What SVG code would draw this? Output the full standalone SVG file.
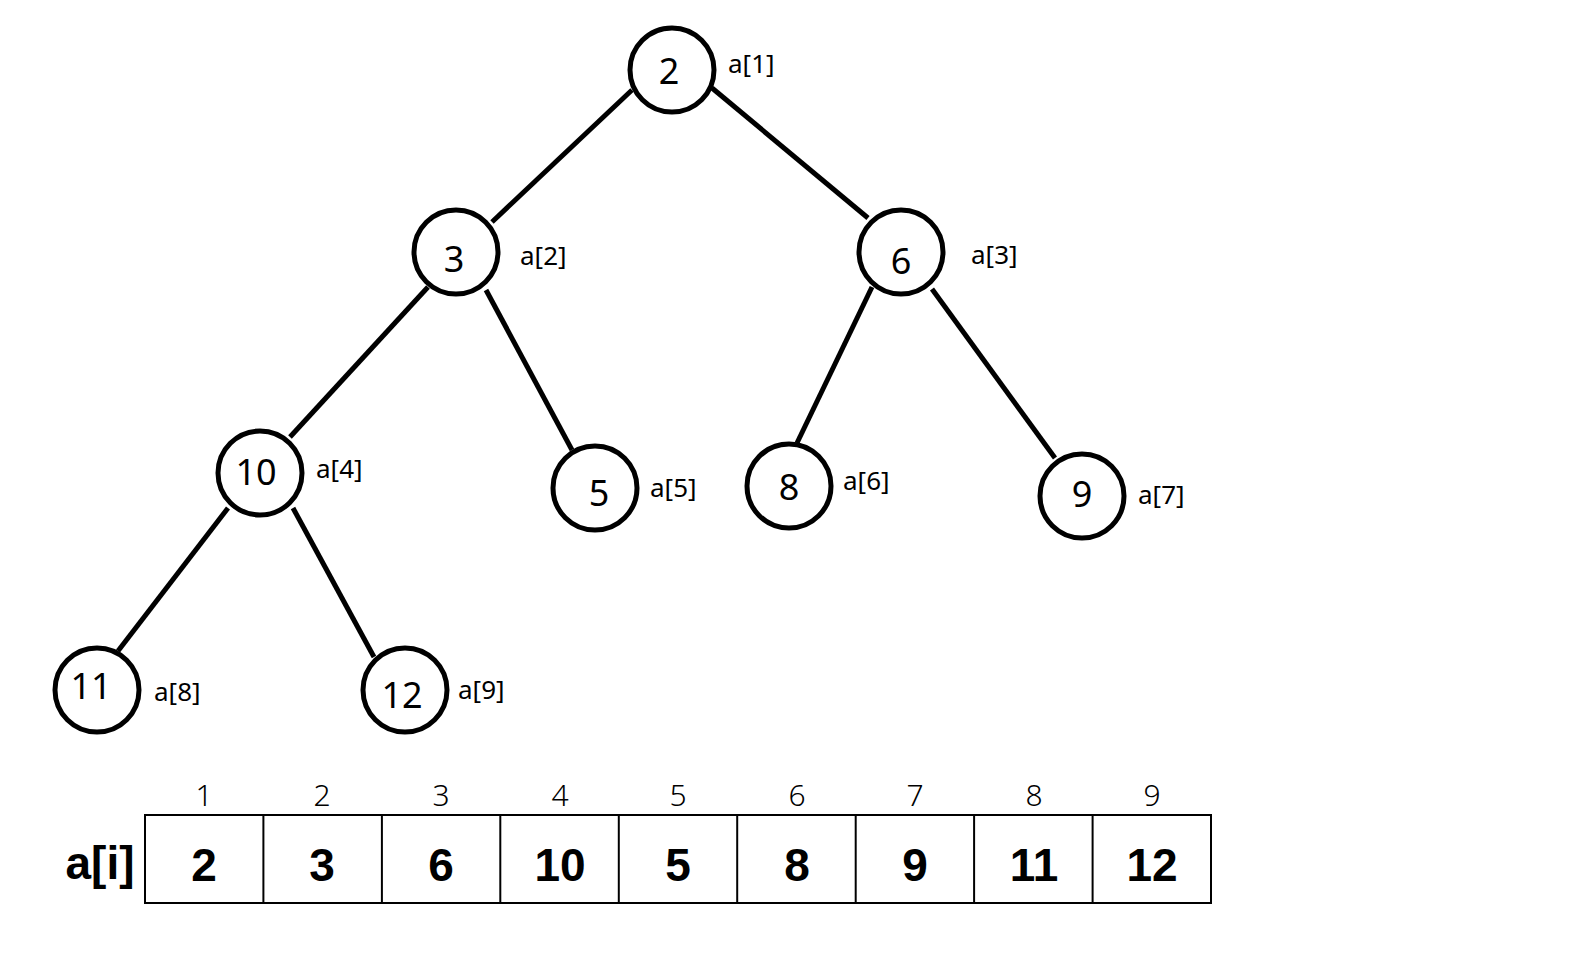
<svg xmlns="http://www.w3.org/2000/svg" width="1587" height="963" viewBox="0 0 1587 963">
<style>
.n circle{fill:#fff;stroke:#000;stroke-width:5}
.n text.v{font-family:"Noto Sans",sans-serif;font-size:36px;text-anchor:middle}
.lb{font-family:"Noto Sans",sans-serif;font-size:26px}
#edges line{stroke:#000;stroke-width:5}
.cell{fill:#fff;stroke:#000;stroke-width:2}
.idx{font-family:"Noto Sans",sans-serif;font-size:30px;text-anchor:middle;font-weight:300}
.val{font-family:"Liberation Sans",Arial,sans-serif;font-size:46px;font-weight:bold;text-anchor:middle}
</style>
<rect width="1587" height="963" fill="#fff"/>
<g id="edges">
<line x1="632" y1="90" x2="492" y2="222"/>
<line x1="712" y1="88" x2="868" y2="218"/>
<line x1="428" y1="287" x2="290" y2="437"/>
<line x1="486" y1="290" x2="572" y2="450"/>
<line x1="872" y1="287" x2="797" y2="443"/>
<line x1="932" y1="289" x2="1055" y2="458"/>
<line x1="228" y1="508" x2="118" y2="651"/>
<line x1="293" y1="508" x2="374" y2="657"/>
</g>
<g id="n1" class="n"><circle cx="672" cy="70" r="42"/><text class="v" x="669" y="84">2</text><text class="lb" x="728" y="73">a[1]</text></g>
<g id="n2" class="n"><circle cx="456" cy="252" r="42"/><text class="v" x="454" y="272">3</text><text class="lb" x="520" y="265">a[2]</text></g>
<g id="n3" class="n"><circle cx="901" cy="252" r="42"/><text class="v" x="901" y="274">6</text><text class="lb" x="971" y="264">a[3]</text></g>
<g id="n4" class="n"><circle cx="260" cy="473" r="42"/><text class="v" x="256" y="485">10</text><text class="lb" x="316" y="478">a[4]</text></g>
<g id="n5" class="n"><circle cx="595" cy="488" r="42"/><text class="v" x="599" y="506">5</text><text class="lb" x="650" y="497">a[5]</text></g>
<g id="n6" class="n"><circle cx="789" cy="486" r="42"/><text class="v" x="789" y="500">8</text><text class="lb" x="843" y="490">a[6]</text></g>
<g id="n7" class="n"><circle cx="1082" cy="496" r="42"/><text class="v" x="1082" y="507">9</text><text class="lb" x="1138" y="504">a[7]</text></g>
<g id="n8" class="n"><circle cx="97" cy="690" r="42"/><text class="v" x="91" y="699">11</text><text class="lb" x="154" y="701">a[8]</text></g>
<g id="n9" class="n"><circle cx="405" cy="690" r="42"/><text class="v" x="402" y="708">12</text><text class="lb" x="458" y="699">a[9]</text></g>
<g id="table">
<text x="100" y="879" class="val" font-size="40">a[i]</text>
<rect class="cell" x="145" y="815" width="1066" height="88"/>
<g stroke="#000" stroke-width="2">
<line x1="263.4" y1="815" x2="263.4" y2="903"/><line x1="381.9" y1="815" x2="381.9" y2="903"/>
<line x1="500.3" y1="815" x2="500.3" y2="903"/><line x1="618.8" y1="815" x2="618.8" y2="903"/>
<line x1="737.2" y1="815" x2="737.2" y2="903"/><line x1="855.7" y1="815" x2="855.7" y2="903"/>
<line x1="974.1" y1="815" x2="974.1" y2="903"/><line x1="1092.6" y1="815" x2="1092.6" y2="903"/>
</g>
<text class="idx" x="204" y="806">1</text><text class="idx" x="322" y="806">2</text><text class="idx" x="441" y="806">3</text>
<text class="idx" x="560" y="806">4</text><text class="idx" x="678" y="806">5</text><text class="idx" x="797" y="806">6</text>
<text class="idx" x="915" y="806">7</text><text class="idx" x="1034" y="806">8</text><text class="idx" x="1152" y="806">9</text>
<text class="val" x="204" y="881">2</text><text class="val" x="322" y="881">3</text><text class="val" x="441" y="881">6</text>
<text class="val" x="560" y="881">10</text><text class="val" x="678" y="881">5</text><text class="val" x="797" y="881">8</text>
<text class="val" x="915" y="881">9</text><text class="val" x="1034" y="881">11</text><text class="val" x="1152" y="881">12</text>
</g>
</svg>
